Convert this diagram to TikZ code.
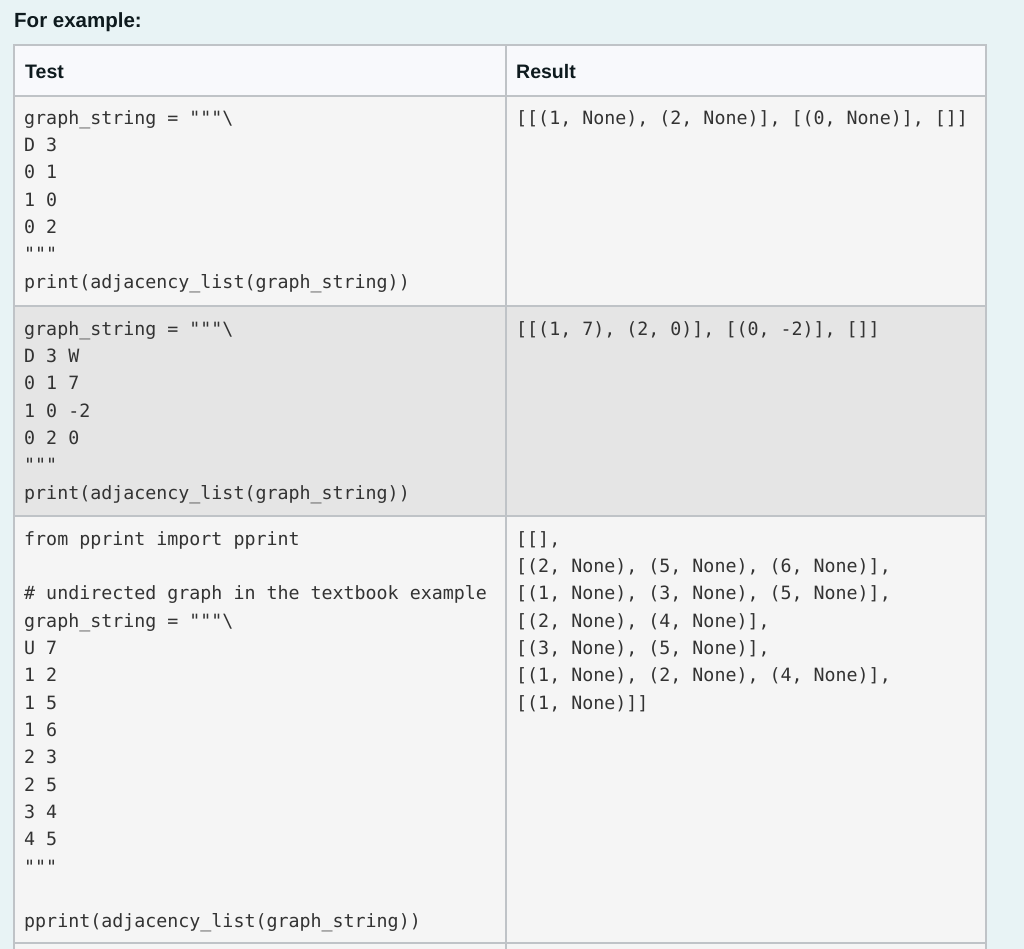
\documentclass[tikz,border=0pt]{standalone}
\usepackage{fontspec}
\setmainfont{Liberation Sans}
\newfontfamily\cmono{DejaVu Sans Mono}[Scale=1]
\definecolor{pagebg}{HTML}{E8F3F5}
\definecolor{hdr}{HTML}{F8F9FC}
\definecolor{rowa}{HTML}{F5F5F5}
\definecolor{rowb}{HTML}{E5E5E5}
\definecolor{bord}{HTML}{BFC3C7}
\definecolor{ink}{HTML}{0E1A1E}
\definecolor{code}{HTML}{333333}
\newcommand{\cl}[4]{\node[codeline] (#1) at (#2,#3) {#4};}
\begin{document}
\begin{tikzpicture}[x=1pt,y=-1pt,
  codeline/.style={anchor=base west,inner sep=0pt,font=\cmono\fontsize{18.3}{20}\selectfont,text=code},
  headtxt/.style={anchor=base west,inner sep=0pt,font=\fontsize{19.5}{22}\selectfont\bfseries,text=ink}]
\useasboundingbox (0,0) rectangle (1024,949);
\fill[pagebg] (0,0) rectangle (1024,949);
\node[headtxt,font=\fontsize{20.5}{24}\selectfont\bfseries] (title) at (14,28) {For example:};
\fill[hdr] (14,45) rectangle (986,96);
\fill[rowa] (14,96) rectangle (986,306);
\fill[rowb] (14,306) rectangle (986,516);
\fill[rowa] (14,516) rectangle (986,949);
\draw[bord,line width=1.2pt] (14,949) -- (14,45) -- (986,45) -- (986,949);
\foreach \yy in {96,306,516,943} \draw[bord,line width=1.2pt] (14,\yy) -- (986,\yy);
\draw[bord,line width=1.2pt] (506,45) -- (506,949);
\node[headtxt] (htest) at (25,79) {Test};
\node[headtxt] (hres) at (516,79) {Result};
% row 1
\cl{a1}{24}{125}{graph\_string = """\textbackslash}
\cl{a2}{24}{152}{D 3}
\cl{a3}{24}{179}{0 1}
\cl{a4}{24}{207}{1 0}
\cl{a5}{24}{234}{0 2}
\cl{a6}{24}{261}{"""}
\cl{a7}{24}{289}{print(adjacency\_list(graph\_string))}
\cl{ar}{516}{125}{[[(1, None), (2, None)], [(0, None)], []]}
% row 2
\cl{b1}{24}{335}{graph\_string = """\textbackslash}
\cl{b2}{24}{362}{D 3 W}
\cl{b3}{24}{389}{0 1 7}
\cl{b4}{24}{417}{1 0 -2}
\cl{b5}{24}{444}{0 2 0}
\cl{b6}{24}{471}{"""}
\cl{b7}{24}{499}{print(adjacency\_list(graph\_string))}
\cl{br}{516}{335}{[[(1, 7), (2, 0)], [(0, -2)], []]}
% row 3
\cl{c1}{24}{545}{from pprint import pprint}
\cl{c2}{24}{599}{\# undirected graph in the textbook example}
\cl{c3}{24}{627}{graph\_string = """\textbackslash}
\cl{c4}{24}{654}{U 7}
\cl{c5}{24}{681}{1 2}
\cl{c6}{24}{709}{1 5}
\cl{c7}{24}{736}{1 6}
\cl{c8}{24}{763}{2 3}
\cl{c9}{24}{791}{2 5}
\cl{c10}{24}{818}{3 4}
\cl{c11}{24}{845}{4 5}
\cl{c12}{24}{873}{"""}
\cl{c13}{24}{927}{pprint(adjacency\_list(graph\_string))}
\cl{r1}{516}{545}{[[],}
\cl{r2}{516}{572}{ [(2, None), (5, None), (6, None)],}
\cl{r3}{516}{599}{ [(1, None), (3, None), (5, None)],}
\cl{r4}{516}{627}{ [(2, None), (4, None)],}
\cl{r5}{516}{654}{ [(3, None), (5, None)],}
\cl{r6}{516}{681}{ [(1, None), (2, None), (4, None)],}
\cl{r7}{516}{709}{ [(1, None)]]}
\end{tikzpicture}
\end{document}
